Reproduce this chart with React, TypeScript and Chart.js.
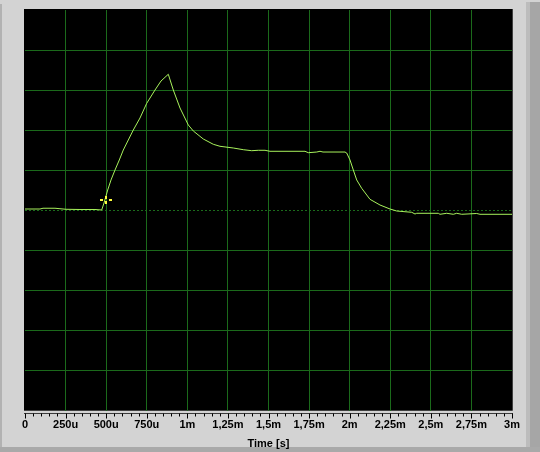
import React, { useEffect, useRef } from 'react';
import { Chart, registerables } from 'chart.js';

Chart.register(...registerables);

// Time axis (ms) and signal amplitude (grid divisions, 0..10)
const timeMs = [
  0, 0.0924, 0.1109, 0.1848, 0.2156, 0.2526, 0.3388, 0.4312, 0.4725, 0.4867,
  0.5095, 0.5298, 0.5545, 0.5809, 0.6056, 0.6672, 0.7084, 0.7497, 0.8008, 0.8378,
  0.8828, 0.9136, 0.9549, 1.006, 1.0368, 1.0984, 1.16, 1.2013, 1.2832, 1.3448,
  1.3965, 1.4372, 1.4785, 1.5093, 1.7249, 1.7452, 1.797, 1.8173, 1.8358, 1.9713,
  1.9818, 2.0021, 2.0224, 2.0434, 2.0742, 2.1253, 2.1869, 2.2485, 2.2898, 2.3822,
  2.4025, 2.413, 2.5461, 2.5565, 2.5978, 2.6385, 2.6594, 2.6902, 2.7826, 2.8029, 3.0,
];
const signal = [
  5.031, 5.031, 5.05, 5.05, 5.038, 5.024, 5.019, 5.019, 5.006, 5.181,
  5.506, 5.756, 6.005, 6.255, 6.504, 7.004, 7.303, 7.67, 8.002, 8.227,
  8.395, 8.002, 7.553, 7.129, 6.979, 6.779, 6.647, 6.597, 6.554, 6.512,
  6.487, 6.497, 6.497, 6.472, 6.472, 6.437, 6.454, 6.472, 6.454, 6.454,
  6.429, 6.255, 6.005, 5.756, 5.548, 5.273, 5.131, 5.031, 4.981, 4.949,
  4.906, 4.924, 4.924, 4.899, 4.924, 4.899, 4.924, 4.899, 4.919, 4.899, 4.899,
];

// Cursor
const cursorTime = [0.5];
const cursorValue = [5.256];

// X axis ticks
const tickValues = [0, 0.25, 0.5, 0.75, 1, 1.25, 1.5, 1.75, 2, 2.25, 2.5, 2.75, 3];
const tickLabels = ['0', '250u', '500u', '750u', '1m', '1,25m', '1,5m', '1,75m', '2m', '2,25m', '2,5m', '2,75m', '3m'];
const minorTicksPerMajor = 5;

const yMin = 0;
const yMax = 10;
const yMiddle = 5;

const GRID = '#1b6a1b';
const TRACE = '#a8f25c';
const CURSOR = '#ffff3c';
const FONT = { family: '"Liberation Sans", Arial, sans-serif', size: 11, weight: 'bold' as const };

export default function App() {
  const ref = useRef<HTMLCanvasElement>(null);

  useEffect(() => {
    if (!ref.current) return;

    const overlayPlugin = {
      id: 'overlay',
      beforeDraw(chart: any) {
        const { ctx, chartArea: a } = chart;
        ctx.save();
        ctx.fillStyle = '#000';
        ctx.fillRect(a.left - 1, a.top - 1, a.right - a.left + 1.7, a.bottom - a.top + 1.2);
        ctx.restore();
      },
      beforeDatasetsDraw(chart: any) {
        const { ctx, chartArea: a, scales } = chart;
        const y = Math.round(scales.y.getPixelForValue(yMiddle)) + 0.5;
        ctx.save();
        ctx.strokeStyle = GRID;
        ctx.lineWidth = 1;
        ctx.setLineDash([2, 2]);
        ctx.beginPath();
        ctx.moveTo(a.left, y);
        ctx.lineTo(a.right, y);
        ctx.stroke();
        ctx.restore();
      },
      afterDatasetsDraw(chart: any) {
        const { ctx } = chart;
        const meta = chart.getDatasetMeta(1);
        ctx.save();
        ctx.fillStyle = CURSOR;
        meta.data.forEach((pt: any) => {
          const cx = Math.round(pt.x);
          const cy = Math.round(pt.y);
          ctx.fillRect(cx - 6, cy - 1, 3, 2);
          ctx.fillRect(cx + 3, cy - 1, 3, 2);
          ctx.fillRect(cx - 1, cy - 4, 2, 3);
          ctx.fillRect(cx - 1, cy + 1, 2, 3);
        });
        ctx.restore();
      },
      afterDraw(chart: any) {
        const { ctx, chartArea: a, scales } = chart;
        const xs = scales.x;
        const base = Math.round(a.bottom) + 2.5;
        ctx.save();
        ctx.strokeStyle = '#3a3a3a';
        ctx.lineWidth = 1;
        ctx.beginPath();
        ctx.moveTo(a.left - 1, base);
        ctx.lineTo(a.right + 1, base);
        ctx.stroke();
        ctx.strokeStyle = '#000';
        ctx.beginPath();
        for (let i = 0; i < tickValues.length; i++) {
          const v0 = tickValues[i];
          const v1 = i + 1 < tickValues.length ? tickValues[i + 1] : v0;
          const n = i + 1 < tickValues.length ? minorTicksPerMajor : 1;
          for (let k = 0; k < n; k++) {
            const v = v0 + ((v1 - v0) * k) / minorTicksPerMajor;
            const px = Math.round(xs.getPixelForValue(v)) + 0.5;
            const len = k === 0 ? 5 : 3;
            ctx.moveTo(px, base);
            ctx.lineTo(px, base + len);
          }
        }
        ctx.stroke();
        ctx.restore();
      },
    };

    const chart = new Chart(ref.current, {
      type: 'line',
      data: {
        datasets: [
          {
            data: timeMs.map((t, i) => ({ x: t, y: signal[i] })),
            borderColor: TRACE,
            borderWidth: 1,
            pointRadius: 0,
            tension: 0,
            fill: false,
          },
          {
            data: cursorTime.map((t, i) => ({ x: t, y: cursorValue[i] })),
            showLine: false,
            pointRadius: 0,
            borderWidth: 0,
          },
        ],
      },
      options: {
        animation: false,
        responsive: false,
        maintainAspectRatio: false,
        layout: { padding: { left: 25, right: 28, top: 10, bottom: 0 } },
        plugins: { legend: { display: false }, tooltip: { enabled: false } },
        scales: {
          x: {
            type: 'linear',
            min: tickValues[0],
            max: tickValues[tickValues.length - 1],
            afterBuildTicks: (s: any) => {
              s.ticks = tickValues.map((v) => ({ value: v }));
            },
            afterFit: (s: any) => {
              s.height = 41.5;
            },
            grid: {
              color: (ctx: any) =>
                ctx.tick && (ctx.tick.value === tickValues[0] || ctx.tick.value === tickValues[tickValues.length - 1])
                  ? 'rgba(0,0,0,0)'
                  : GRID,
              drawTicks: false,
              lineWidth: 1,
            },
            border: { display: false },
            ticks: {
              callback: (_v: any, i: number) => tickLabels[i],
              padding: 8,
              font: FONT,
              color: '#000',
              maxRotation: 0,
              autoSkip: false,
            },
            title: {
              display: true,
              text: 'Time [s]',
              font: FONT,
              color: '#000',
              padding: { top: 0, bottom: 1 },
            },
          },
          y: {
            min: yMin,
            max: yMax,
            ticks: { display: false, stepSize: 1 },
            grid: {
              color: (ctx: any) =>
                ctx.tick && (ctx.tick.value === yMin || ctx.tick.value === yMax || ctx.tick.value === yMiddle)
                  ? 'rgba(0,0,0,0)'
                  : GRID,
              drawTicks: false,
              lineWidth: 1,
            },
            border: { display: false },
          },
        },
      },
      plugins: [overlayPlugin],
    });

    return () => chart.destroy();
  }, []);

  return (
    <div
      style={{
        position: 'absolute',
        left: 0,
        top: 0,
        width: 540,
        height: 452,
        background: '#d3d3d3',
        overflow: 'hidden',
      }}
    >
      <div style={{ position: 'absolute', left: 0, top: 4, width: 2, height: 448, background: '#b2b2b2' }} />
      <div style={{ position: 'absolute', left: 526, top: 2, width: 4, height: 450, background: '#bcbcbc' }} />
      <div style={{ position: 'absolute', left: 530, top: 2, width: 10, height: 450, background: '#a6a6a6' }} />
      <div style={{ position: 'absolute', left: 0, top: 447, width: 540, height: 5, background: '#a9a9a9' }} />
      <canvas
        ref={ref}
        width={540}
        height={452}
        style={{ position: 'absolute', left: 0, top: 0, width: 540, height: 452 }}
      />
    </div>
  );
}
